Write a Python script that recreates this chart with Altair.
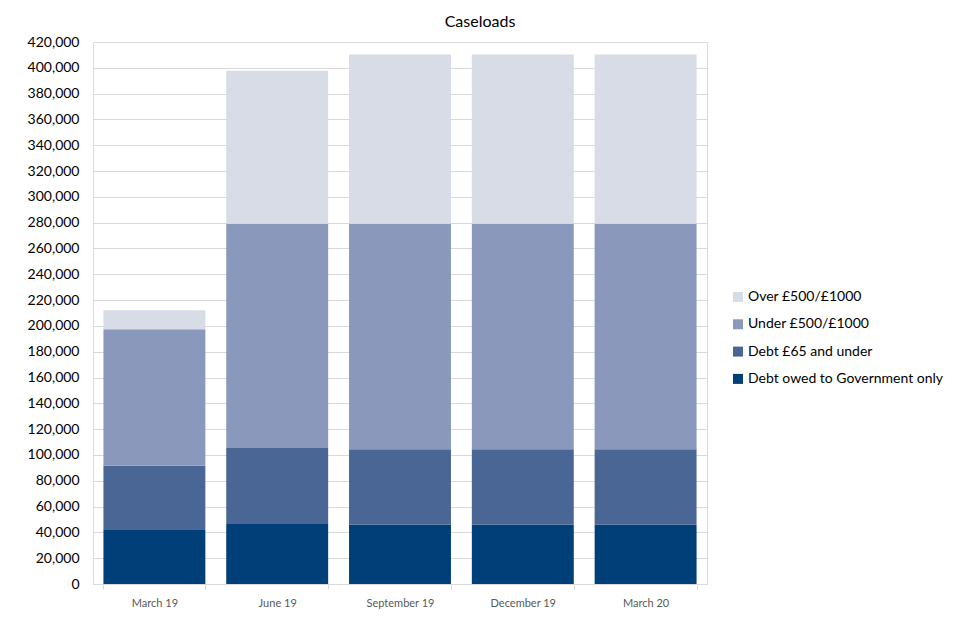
import altair as alt
import pandas as pd

periods = ["March 19", "June 19", "September 19", "December 19", "March 20"]
gov_only = [41800, 46500, 46000, 46000, 46000]
debt_65_under = [49900, 58900, 58400, 58400, 58400]
under_500 = [105700, 173800, 174800, 174800, 174800]
over_500 = [14700, 118600, 131200, 131200, 131200]

series_names = ["Debt owed to Government only", "Debt £65 and under",
                "Under £500/£1000", "Over £500/£1000"]
series_values = [gov_only, debt_65_under, under_500, over_500]
series_colors = ["#003F78", "#4A6695", "#8A98BC", "#D7DCE7"]

rows = []
for si, (name, vals) in enumerate(zip(series_names, series_values)):
    for p, v in zip(periods, vals):
        rows.append({"period": p, "series": name, "value": v, "ord": si})
df = pd.DataFrame(rows)

legend_order = list(reversed(series_names))
color_order = list(reversed(series_colors))

FONT = "Lato"

chart = alt.Chart(df).mark_bar().encode(
    x=alt.X("period:N", sort=periods, title=None,
            scale=alt.Scale(paddingInner=0.17, paddingOuter=0.085),
            axis=alt.Axis(labelAngle=0, labelFontSize=11, labelColor="#595959",
                          labelFont=FONT, labelPadding=8, tickBand="extent",
                          tickSize=5, tickColor="#D9D9D9", domainColor="#D9D9D9",
                          grid=False)),
    y=alt.Y("value:Q", stack="zero", title=None,
            scale=alt.Scale(domain=[0, 420000], nice=False),
            axis=alt.Axis(values=list(range(0, 420001, 20000)), format=",.0f",
                          labelFontSize=14, labelColor="#000000", labelFont=FONT,
                          ticks=False, domain=False, labelPadding=14,
                          gridColor="#D9D9D9", gridWidth=1)),
    color=alt.Color("series:N",
                    scale=alt.Scale(domain=legend_order, range=color_order),
                    legend=alt.Legend(title=None, orient="none", legendX=638, legendY=248,
                                      symbolType="square", symbolSize=100,
                                      symbolStrokeWidth=0, labelFontSize=14,
                                      labelFont=FONT, labelColor="#000000",
                                      rowPadding=13.3, labelOffset=3, labelLimit=300)),
    order=alt.Order("ord:Q", sort="ascending"),
).properties(
    width=614,
    height=542,
    title=alt.TitleParams("Caseloads", anchor="middle", dx=80, fontSize=16,
                          font=FONT, fontWeight="normal", color="#000000", offset=5),
    autosize=alt.AutoSizeParams(type="none"),
    padding={"left": 85, "top": 34, "right": 245, "bottom": 40},
).configure_view(stroke=None).configure(background="#FFFFFF")

chart.save("out.html", embed_options={"renderer": "svg", "actions": False})
